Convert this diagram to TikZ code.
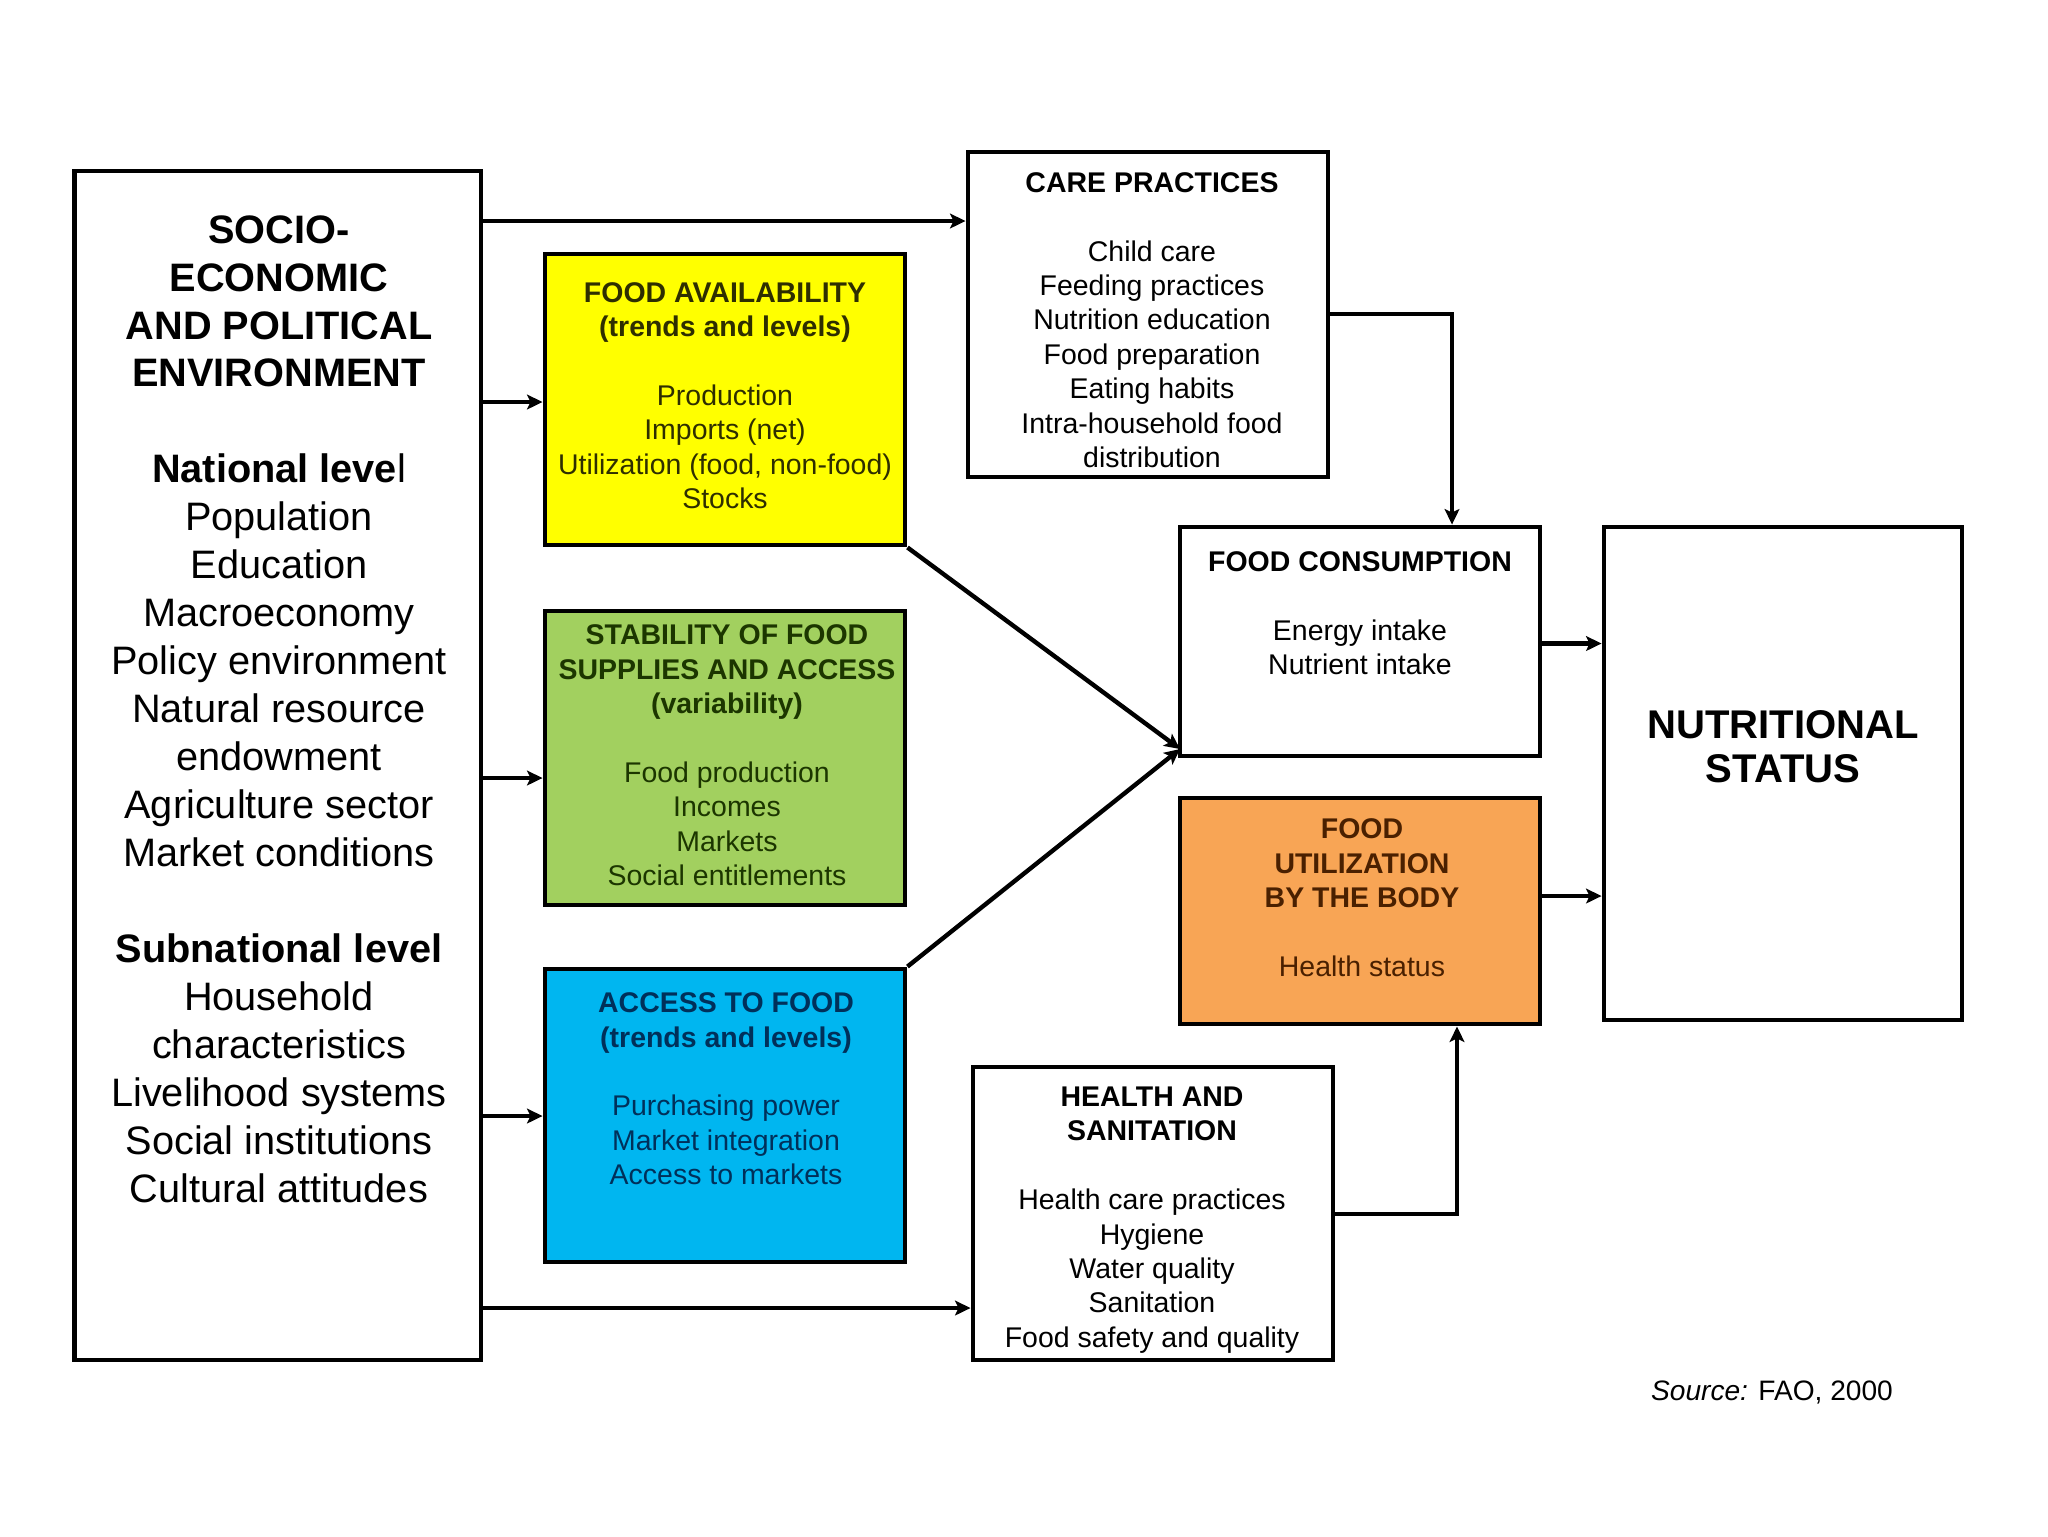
\documentclass[tikz,border=0pt]{standalone}
\usepackage{fontspec}
\setmainfont{Liberation Sans}
\usetikzlibrary{arrows.meta}
\definecolor{availfill}{HTML}{FFFF00}
\definecolor{availtext}{HTML}{2E2E00}
\definecolor{stabfill}{HTML}{A2D05F}
\definecolor{stabtext}{HTML}{1C3600}
\definecolor{accfill}{HTML}{00B6F0}
\definecolor{acctext}{HTML}{00305A}
\definecolor{utilfill}{HTML}{F8A555}
\definecolor{utiltext}{HTML}{4A2000}
\tikzset{
	box/.style={draw,line width=1.4pt,rectangle,inner sep=0pt},
	txt/.style={anchor=north,align=center,inner sep=0pt,font=\fontsize{8.1}{9.8}\selectfont},
	bigtxt/.style={anchor=north,align=center,inner sep=0pt,font=\fontsize{11.3}{13.65}\selectfont},
	link/.style={->,line width=1.25pt}
}
\newcommand\hd[1]{\textbf{#1}}
\begin{document}
\begin{tikzpicture}[x=0.1mm,y=-0.1mm,>={Stealth[length=4.4pt,width=4.2pt,inset=1pt]}]
	\useasboundingbox (0,0) rectangle (2048,1536);
	%%Hộp
	\node[box,minimum width=40.64mm,minimum height=118.9mm] (env) at (277.8,765.5) {};
	\node[box,fill=availfill,minimum width=36mm,minimum height=29.1mm] (avail) at (725,399.5) {};
	\node[box,fill=stabfill,minimum width=36mm,minimum height=29.4mm] (stab) at (725,758) {};
	\node[box,fill=accfill,minimum width=36mm,minimum height=29.3mm] (access) at (725,1115.5) {};
	\node[box,minimum width=36mm,minimum height=32.5mm] (care) at (1148,314.5) {};
	\node[box,minimum width=36mm,minimum height=22.9mm] (cons) at (1360,641.5) {};
	\node[box,fill=utilfill,minimum width=36mm,minimum height=22.6mm] (util) at (1360,911) {};
	\node[box,minimum width=36mm,minimum height=29.3mm] (health) at (1153,1213.5) {};
	\node[box,minimum width=35.8mm,minimum height=49.3mm] (status) at (1783,773.5) {};
	%%Chữ
	\node[bigtxt] (envT) at (279,214.6) {\hd{SOCIO-}\\\hd{ECONOMIC}\\\hd{AND POLITICAL}\\\hd{ENVIRONMENT}\\[13.65pt]
		\hd{National leve}l\\Population\\Education\\Macroeconomy\\Policy environment\\Natural resource\\endowment\\Agriculture sector\\Market conditions\\[13.65pt]
		\hd{Subnational level}\\Household\\characteristics\\Livelihood systems\\Social institutions\\Cultural attitudes};
	\node[txt,text=availtext] (availT) at (725,281.5) {\hd{FOOD AVAILABILITY}\\\hd{(trends and levels)}\\[9.8pt]
		Production\\Imports (net)\\Utilization (food, non-food)\\Stocks};
	\node[txt,text=stabtext] (stabT) at (727,624) {\hd{STABILITY OF FOOD}\\\hd{SUPPLIES AND ACCESS}\\\hd{(variability)}\\[9.8pt]
		Food production\\Incomes\\Markets\\Social entitlements};
	\node[txt,text=acctext] (accessT) at (726,992) {\hd{ACCESS TO FOOD}\\\hd{(trends and levels)}\\[9.8pt]
		Purchasing power\\Market integration\\Access to markets};
	\node[txt] (careT) at (1152,171.6) {\hd{CARE PRACTICES}\\[9.8pt]
		Child care\\Feeding practices\\Nutrition education\\Food preparation\\Eating habits\\Intra-household food\\distribution};
	\node[txt] (consT) at (1360,551) {\hd{FOOD CONSUMPTION}\\[9.8pt]Energy intake\\Nutrient intake};
	\node[txt,text=utiltext] (utilT) at (1362,818) {\hd{FOOD}\\\hd{UTILIZATION}\\\hd{BY THE BODY}\\[9.8pt]Health status};
	\node[txt] (healthT) at (1152,1086) {\hd{HEALTH AND}\\\hd{SANITATION}\\[9.8pt]
		Health care practices\\Hygiene\\Water quality\\Sanitation\\Food safety and quality};
	\node[anchor=north,align=center,inner sep=0pt,font=\fontsize{11.4}{12.6}\selectfont\bfseries] (statusT) at (1783,710) {NUTRITIONAL\\STATUS};
	\node[anchor=base,inner sep=0pt,font=\fontsize{8}{9.6}\selectfont] (src) at (1772,1400) {\textit{Source:} FAO, 2000};
	%%Mũi tên
	\path (1452,314)coordinate(careTurn) (1457,1214)coordinate(healthTurn) (1180,749)coordinate(meet);
	\foreach \t/\y in {care/221,avail/402,stab/778,access/1116,health/1308}{
		\draw[link] (env.east |- 0,\y) -- (\t.west |- 0,\y);
	}
	\draw[link] (care.east |- careTurn) -| (careTurn |- cons.north);
	\draw[link] (health.east |- healthTurn) -| (healthTurn |- util.south);
	\draw[link] (avail.south east) -- (meet);
	\draw[link] (access.north east) -- (meet);
	\draw[link] (cons.east |- 0,643.5) -- (status.west |- 0,643.5);
	\draw[link] (util.east |- 0,896) -- (status.west |- 0,896);
\end{tikzpicture}
\end{document}
